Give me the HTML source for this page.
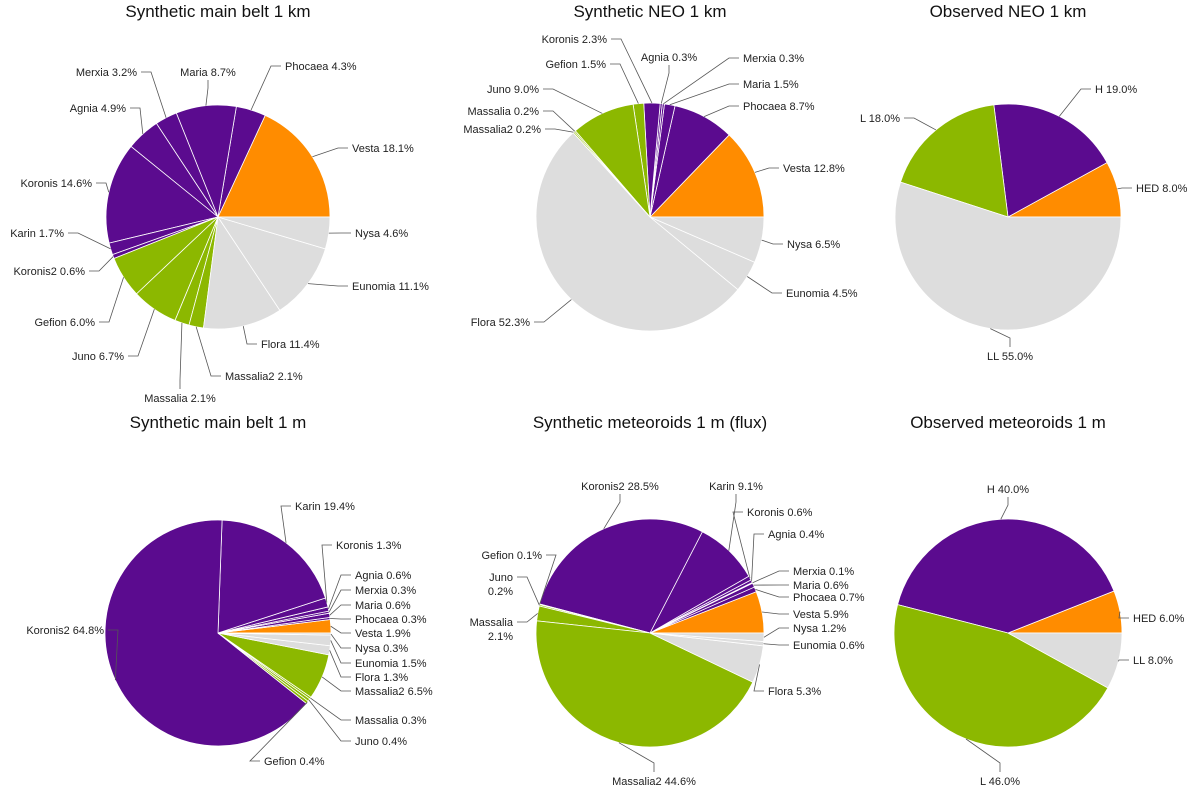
<!DOCTYPE html>
<html><head><meta charset="utf-8"><style>
body{margin:0;background:#fff;width:1200px;height:787px;overflow:hidden}
svg{display:block}
text{font-family:"Liberation Sans",sans-serif}
</style></head><body>
<svg id="chart" width="1200" height="787" xmlns="http://www.w3.org/2000/svg"></svg>
<script>
const titles = ["Synthetic main belt 1 km","Synthetic NEO 1 km","Observed NEO 1 km","Synthetic main belt 1 m","Synthetic meteoroids 1 m (flux)","Observed meteoroids 1 m"];
const fam = ["Vesta","Phocaea","Maria","Merxia","Agnia","Koronis","Karin","Koronis2","Gefion","Juno","Massalia","Massalia2","Flora","Eunomia","Nysa"];
const famColor = ["o","p","p","p","p","p","p","p","g","g","g","g","l","l","l"];
const met = ["HED","H","L","LL"];
const metColor = ["o","p","g","l"];
const vals1 = [18.1,4.3,8.7,3.2,4.9,14.6,1.7,0.6,6.0,6.7,2.1,2.1,11.4,11.1,4.6];
const vals2 = [12.8,8.7,1.5,0.3,0.3,2.3,0,0,1.5,9.0,0.2,0.2,52.3,4.5,6.5];
const vals3 = [8.0,19.0,18.0,55.0];
const vals4 = [1.9,0.3,0.6,0.3,0.6,1.3,19.4,64.8,0.4,0.4,0.3,6.5,1.3,1.5,0.3];
const vals5 = [5.9,0.7,0.6,0.1,0.4,0.6,9.1,28.5,0.1,0.2,2.1,44.6,5.3,0.6,1.2];
const vals6 = [6.0,40.0,46.0,8.0];
const colors = {o:"#ff8c00",p:"#5b0b8f",g:"#8cb800",l:"#dddddd"};
// label layout (positions, not data): [type, x, y-center]
const lay1 = [["r",352,148],["r",285,66],["a",208,72],["l",137,72],["l",126,108],["l",92,183],["l",64,233],["l",85,271],["l",95,322],["l",124,356],["b",180,398],["r",225,376],["r",261,344],["r",352,286],["r",355,233]];
const lay2 = [["r",783,168],["r",743,106],["r",743,84],["r",743,58],["a",669,57],["l",607,39],null,null,["l",606,64],["l",539,89],["l",539,111],["l",541,129],["l",530,322],["r",786,293],["r",787,244]];
const lay3 = [["r",1136,188],["r",1095,89],["l",900,118],["b",1010,356]];
const lay4 = [["r",355,633],["r",355,619],["r",355,605],["r",355,590],["r",355,575],["r",336,545],["r",295,506],["l",104,630],["r",264,761],["r",355,741],["r",355,720],["r",355,691],["r",355,677],["r",355,663],["r",355,648]];
const lay5 = [["r",793,614],["r",793,597],["r",793,585],["r",793,571],["r",768,534],["r",747,512],["a",736,486],["a",620,486],["l",542,555],["l2",513,577],["l2",513,622],["b",654,781],["r",768,691],["r",793,645],["r",793,628]];
const lay6 = [["r",1133,618],["a",1008,489],["b",1000,781],["r",1133,660]];
const charts = [
 {cats:fam,cols:famColor,vals:vals1,lay:lay1,cx:218,cy:217,r:112,ty:17},
 {cats:fam,cols:famColor,vals:vals2,lay:lay2,cx:650,cy:217,r:114,ty:17},
 {cats:met,cols:metColor,vals:vals3,lay:lay3,cx:1008,cy:217,r:113,ty:17},
 {cats:fam,cols:famColor,vals:vals4,lay:lay4,cx:218,cy:633,r:113,ty:428},
 {cats:fam,cols:famColor,vals:vals5,lay:lay5,cx:650,cy:633,r:114,ty:428},
 {cats:met,cols:metColor,vals:vals6,lay:lay6,cx:1008,cy:633,r:114,ty:428}
];
const NS="http://www.w3.org/2000/svg";
const svg=document.getElementById('chart');
function mk(tag,attrs,parent){const e=document.createElementNS(NS,tag);for(const k in attrs)e.setAttribute(k,attrs[k]);(parent||svg).appendChild(e);return e;}
charts.forEach((c,ci)=>{
  const g=mk('g',{});
  
  
  const t=mk('text',{x:c.cx,y:c.ty,'text-anchor':'middle','font-size':17,fill:'#111'},g);
  
  
  t.textContent=titles[ci];
  const total=c.vals.reduce((a,b)=>a+b,0);
  let ang=0;
  c.vals.forEach((v,i)=>{
    if(v<=0)return;
    const a0=ang, a1=ang+v/total*2*Math.PI; ang=a1;
    const x0=c.cx+c.r*Math.cos(a0), y0=c.cy-c.r*Math.sin(a0);
    const x1=c.cx+c.r*Math.cos(a1), y1=c.cy-c.r*Math.sin(a1);
    const large=(a1-a0)>Math.PI?1:0;
    const p=mk('path',{d:`M${c.cx},${c.cy}L${x0},${y0}A${c.r},${c.r} 0 ${large} 0 ${x1},${y1}Z`,fill:colors[c.cols[i]],stroke:'#fff','stroke-width':0.8},g);
    
    
    const L=c.lay[i]; if(!L)return;
    const m=(a0+a1)/2;
    const px=c.cx+c.r*Math.cos(m), py=c.cy-c.r*Math.sin(m);
    const [type,x,y]=L;
    let pts, tx=x, anchor='start';
    if(type==='r'){pts=`${px},${py} ${x-14},${y} ${x-4},${y}`;}
    else if(type==='l'||type==='l2'){pts=`${px},${py} ${x+14},${y} ${x+4},${y}`;anchor='end';}
    else if(type==='a'){pts=`${px},${py} ${x},${y+16} ${x},${y+8}`;anchor='middle';}
    else {pts=`${px},${py} ${x},${y-18} ${x},${y-9}`;anchor='middle';}
    const ln=mk('polyline',{points:pts,fill:'none',stroke:'#555','stroke-width':0.8},g);
    
    
    const by=y+4;
    const tt=mk('text',{x:tx,y:by,'text-anchor':anchor,'font-size':11,fill:'#222'},g);
    
    
    const s=v.toFixed(1)+'%';
    if(type==='l2'){
      const a=mk('tspan',{x:tx,y:by},tt); a.textContent=c.cats[i];
      const b=mk('tspan',{x:tx,y:by+14},tt); b.textContent=s;
    } else tt.textContent=c.cats[i]+' '+s;
  });
});
</script>
</body></html>
